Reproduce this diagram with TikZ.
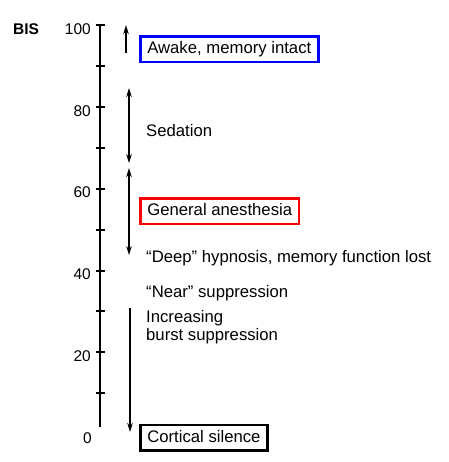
\documentclass[tikz,border=0pt]{standalone}
\usepackage{fontspec}
\setmainfont{Liberation Sans}
\usetikzlibrary{arrows.meta}

\tikzset{
  zone/.style={inner sep=0pt, anchor=base west, font=\fontsize{16.7}{18.5}\selectfont, align=left},
  zonebox/.style={zone, draw, line width=2.6pt, inner xsep=7pt, inner ysep=5pt,
    text height=12pt, text depth=3.5pt, xshift=-7pt},
  scalenum/.style={inner sep=0pt, anchor=east, yshift=-3.5pt, font=\fontsize{15.5}{17}\selectfont},
  bisrange/.style={line width=1.4pt},
  >={Stealth[length=9pt,width=5.5pt]}
}

\begin{document}
\begin{tikzpicture}[x=1pt, y=4.085pt]
  \useasboundingbox (0,-6.85) rectangle (448,106.24);
  % BIS scale
  \node[font=\fontsize{15.5}{17}\selectfont\bfseries, inner sep=0pt] (bis) at (26,99.1) {BIS};
  \coordinate (top) at (100,100);
  \coordinate (bottom) at (100,1.7);
  \draw[line width=2pt] (top) -- (bottom);
  \foreach \v in {10,20,...,100}
    \draw[line width=2pt] (96,\v) -- (105,\v);
  \foreach \v in {20,40,...,100}
    \node[scalenum] (n\v) at (91,\v) {\v};
  \node[scalenum] (n0) at (92,-0.1) {0};
  % Ranges
  \coordinate (awakeA) at (126,93.3);
  \coordinate (awakeB) at (126,100.1);
  \draw[bisrange,->] (awakeA) -- (awakeB);
  \coordinate (sedA) at (129,84.7);
  \coordinate (sedB) at (129,66.3);
  \draw[bisrange,<->] (sedA) -- (sedB);
  \coordinate (anesA) at (129,65.1);
  \coordinate (anesB) at (129,43.8);
  \draw[bisrange,<->] (anesA) -- (anesB);
  \coordinate (burstA) at (130,30.8);
  \coordinate (burstB) at (130,0.5);
  \draw[bisrange,->] (burstA) -- (burstB);
  % States
  \node[zonebox, draw=blue] (awake) at (146,93.1) {Awake, memory intact};
  \node[zone] (sedation) at (146,72.8) {Sedation};
  \node[zonebox, draw=red] (general) at (146,53.5) {General anesthesia};
  \node[zone] (deep) at (146,41.9) {“Deep” hypnosis, memory function lost};
  \node[zone] (near) at (146,33.5) {“Near” suppression};
  \node[zone, anchor=west] (burst) at (146,26.2) {Increasing\\burst suppression};
  \node[zonebox, draw=black] (silence) at (146,-2) {Cortical silence};
\end{tikzpicture}
\end{document}
